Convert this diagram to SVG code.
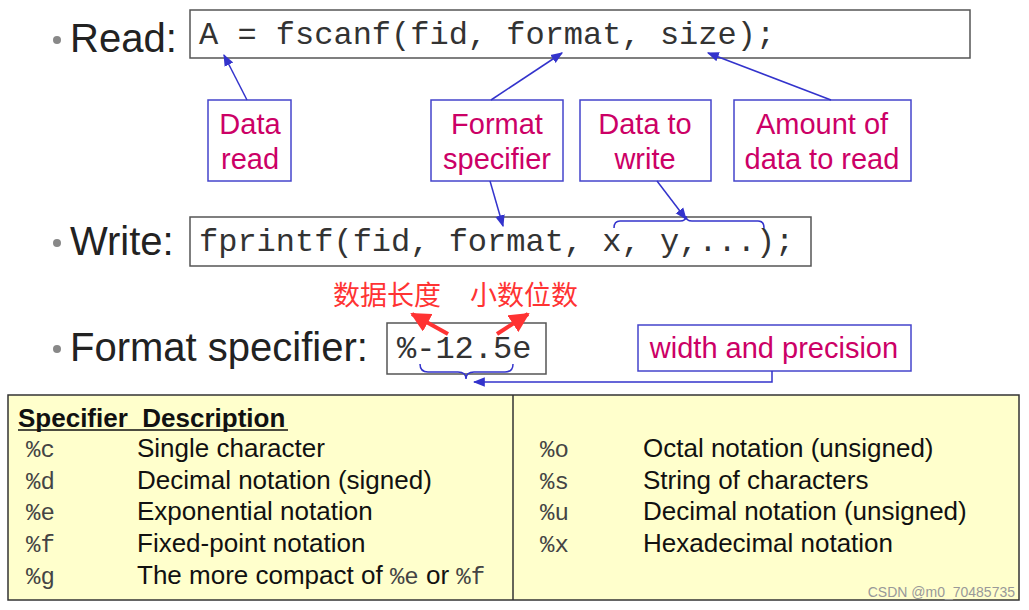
<svg xmlns="http://www.w3.org/2000/svg" width="1029" height="610" viewBox="0 0 1029 610">
<style>
.b{font-family:"Liberation Sans",Arial,sans-serif;font-size:40px;fill:#222}
.dot{fill:#888}
.m{font-family:"Liberation Mono","Courier New",monospace;font-size:32px;fill:#333}
.box{fill:#fff;stroke:#555;stroke-width:1.5}
.lb{fill:#fff;stroke:#4444cc;stroke-width:1.5}
.lt{font-family:"Liberation Sans",Arial,sans-serif;font-size:29px;fill:#cc0066;text-anchor:middle}
.cn{font-family:"Noto Sans CJK SC",sans-serif;font-size:27px;fill:#ff3333}
.ln{stroke:#3333cc;stroke-width:1.5;fill:none}
.t{font-family:"Liberation Sans",Arial,sans-serif;font-size:26px;fill:#111}
.tm{font-family:"Liberation Mono","Courier New",monospace;font-size:24px;fill:#444}
</style>
<defs>
<marker id="a" viewBox="0 0 10 10" refX="9" refY="5" markerWidth="8" markerHeight="8" orient="auto-start-reverse"><path d="M0,1 L10,5 L0,9 z" fill="#3333cc"/></marker>
<marker id="r" viewBox="0 0 10 10" refX="9" refY="5" markerWidth="5" markerHeight="5" orient="auto"><path d="M0,0 L10,5 L0,10 z" fill="#ff3333"/></marker>
</defs>
<rect width="1029" height="610" fill="#fff"/>
<g id="bullets">
<circle class="dot" cx="57" cy="40" r="4"/><text class="b" x="70" y="52">Read:</text>
<circle class="dot" cx="57" cy="243" r="4"/><text class="b" x="70" y="255">Write:</text>
<circle class="dot" cx="57" cy="349" r="4"/><text class="b" x="70" y="361">Format specifier:</text>
</g>
<g id="read"><rect class="box" x="190" y="10" width="780" height="48"/><text class="m" x="199" y="44">A = fscanf(fid, format, size);</text></g>
<g id="write"><rect class="box" x="190" y="217" width="621" height="49"/><text class="m" x="199" y="251">fprintf(fid, format, x, y,...);</text></g>
<g id="fmt"><rect class="box" x="387" y="323" width="159" height="51"/><text class="m" x="397" y="358">%-12.5e</text></g>
<g id="n1"><rect class="lb" x="208" y="100" width="83" height="81"/><text class="lt" x="250" y="134">Data</text><text class="lt" x="250" y="169">read</text></g>
<g id="n2"><rect class="lb" x="431" y="100" width="132" height="81"/><text class="lt" x="497" y="134">Format</text><text class="lt" x="497" y="169">specifier</text></g>
<g id="n3"><rect class="lb" x="580" y="100" width="131" height="81"/><text class="lt" x="645" y="134">Data to</text><text class="lt" x="645" y="169">write</text></g>
<g id="n4"><rect class="lb" x="734" y="100" width="177" height="81"/><text class="lt" x="822" y="134">Amount of</text><text class="lt" x="822" y="169">data to read</text></g>
<g id="n5"><rect class="lb" x="638" y="325" width="273" height="46"/><text class="lt" x="774" y="358">width and precision</text></g>
<g id="cn"><text class="cn" x="333" y="305">数据长度</text><text class="cn" x="470" y="305">小数位数</text></g>
<g id="connectors">
<line class="ln" x1="247" y1="100" x2="224" y2="55" marker-end="url(#a)"/>
<line class="ln" x1="491" y1="100" x2="562" y2="53" marker-end="url(#a)"/>
<line class="ln" x1="831" y1="100" x2="708" y2="53" marker-end="url(#a)"/>
<line class="ln" x1="490" y1="181" x2="503" y2="226" marker-end="url(#a)"/>
<line class="ln" x1="657" y1="181" x2="686" y2="219" marker-end="url(#a)"/>
<path class="ln" stroke-width="1" d="M614,228 Q614,221 620,221 L680,221 Q686,221 686,216 Q686,221 692,221 L758,221 Q764,221 764,228"/>
<path class="ln" stroke-width="1" d="M420,364 Q420,372 428,372 L458,372 Q466,372 466,379 Q466,372 474,372 L505,372 Q513,372 513,364"/>
<polyline class="ln" points="772,371 772,382 474,382" marker-end="url(#a)"/>
<line stroke="#ff3333" stroke-width="4" x1="448" y1="334" x2="412" y2="314" marker-end="url(#r)"/>
<line stroke="#ff3333" stroke-width="4" x1="497" y1="334" x2="528" y2="314" marker-end="url(#r)"/>
</g>
<g id="table">
<rect x="8" y="395" width="1011" height="205" fill="#ffffcc" stroke="#333" stroke-width="1.5"/>
<line x1="513" y1="395" x2="513" y2="600" stroke="#333" stroke-width="1.5"/>
<text class="t" x="18" y="427" font-weight="bold" xml:space="preserve">Specifier  Description</text>
<line x1="18" y1="430" x2="288" y2="430" stroke="#111" stroke-width="1.5"/>
<text class="tm" x="26" y="457">%c</text><text class="t" x="137" y="457">Single character</text>
<text class="tm" x="26" y="489">%d</text><text class="t" x="137" y="489">Decimal notation (signed)</text>
<text class="tm" x="26" y="520">%e</text><text class="t" x="137" y="520">Exponential notation</text>
<text class="tm" x="26" y="552">%f</text><text class="t" x="137" y="552">Fixed-point notation</text>
<text class="tm" x="26" y="584">%g</text><text class="t" x="137" y="584">The more compact of <tspan class="tm">%e</tspan> or <tspan class="tm">%f</tspan></text>
<text class="tm" x="540" y="457">%o</text><text class="t" x="643" y="457">Octal notation (unsigned)</text>
<text class="tm" x="540" y="489">%s</text><text class="t" x="643" y="489">String of characters</text>
<text class="tm" x="540" y="520">%u</text><text class="t" x="643" y="520">Decimal notation (unsigned)</text>
<text class="tm" x="540" y="552">%x</text><text class="t" x="643" y="552">Hexadecimal notation</text>
</g>
<text x="1015" y="597" text-anchor="end" font-family="Liberation Sans,sans-serif" font-size="14" fill="#999">CSDN @m0_70485735</text>
</svg>
